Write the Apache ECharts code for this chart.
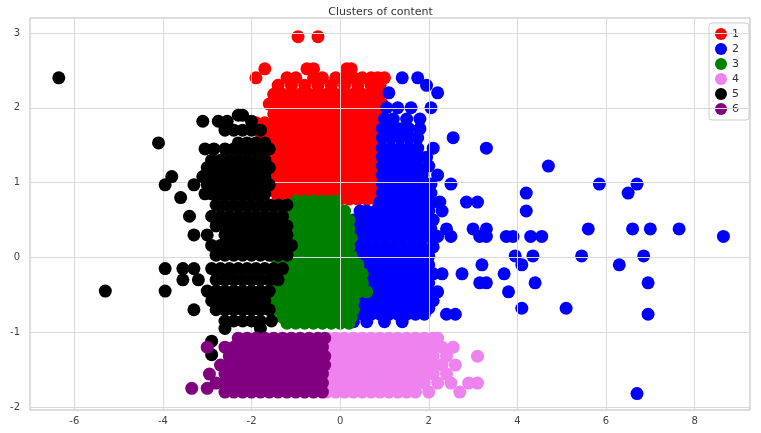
<!DOCTYPE html>
<html><head><meta charset="utf-8">
<script src="https://cdn.jsdelivr.net/npm/echarts@6/dist/echarts.min.js"></script>
<style>html,body{margin:0;padding:0;background:#fff}#c{width:761px;height:433px}</style>
</head><body><div id="c"></div>
<script>
// Rows: [y, x1, x2, ...]
const clusterNames = ['1','2','3','4','5','6'];
const clusterColors = ['#ff0000','#0000ff','#008000','#ee82ee','#000000','#800080'];
const xTicks = [-6,-4,-2,0,2,4,6,8];
const yTicks = [-2,-1,0,1,2,3];

const redRows = [
 [2.95,-0.95,-0.5],
 [2.52,-1.7,-0.75,-0.6,0.15,0.25],
 [2.4,-1.9,-1.2,-1.0,-0.6,-0.4,-0.1,0.1,0.3,0.5,0.7,0.85,1.0],
 [2.3,-1.4,-1.1,-0.8,-0.5,-0.2,0.1,0.4,0.7,0.9],
 [2.18,-1.5,-1.3,-1.1,-0.9,-0.7,-0.5,-0.3,-0.1,0.1,0.3,0.5,0.7,0.9],
 [2.05,-1.6,-1.4,-1.2,-1.0,-0.8,-0.6,-0.4,-0.2,0.0,0.2,0.4,0.6,0.8,0.95],
 [1.92,-1.5,-1.3,-1.1,-0.9,-0.7,-0.5,-0.3,-0.1,0.1,0.3,0.5,0.7,0.9],
 [1.8,-1.9,-1.7,-1.5,-1.3,-1.1,-0.9,-0.7,-0.5,-0.3,-0.1,0.1,0.3,0.5,0.7,0.9],
 [1.67,-1.8,-1.6,-1.4,-1.2,-1.0,-0.8,-0.6,-0.4,-0.2,0.0,0.2,0.4,0.6,0.8,0.95],
 [1.54,-1.5,-1.3,-1.1,-0.9,-0.7,-0.5,-0.3,-0.1,0.1,0.3,0.5,0.7,0.9],
 [1.41,-1.6,-1.4,-1.2,-1.0,-0.8,-0.6,-0.4,-0.2,0.0,0.2,0.4,0.6,0.8,0.95],
 [1.28,-1.5,-1.3,-1.1,-0.9,-0.7,-0.5,-0.3,-0.1,0.1,0.3,0.5,0.7,0.9],
 [1.15,-1.6,-1.4,-1.2,-1.0,-0.8,-0.6,-0.4,-0.2,0.0,0.2,0.4,0.6,0.8,0.95],
 [1.02,-1.5,-1.3,-1.1,-0.9,-0.7,-0.5,-0.3,-0.1,0.1,0.3,0.5,0.7,0.9],
 [0.89,-1.5,-1.3,-1.1,-0.9,-0.7,-0.5,-0.3,-0.1,0.1,0.3,0.5,0.7,0.9],
 [0.78,-1.4,-1.2,-1.0,-0.8,-0.6,-0.4,-0.2,0.0,0.2,0.4,0.6,0.8,0.9]
];
const blueRows = [
 [2.4,1.4,1.75],[2.3,1.95],[2.2,1.1,2.2],[2.0,1.05,1.3,1.6,2.05],
 [1.85,1.0,1.2,1.5,1.8],[1.72,0.95,1.15,1.35,1.55,1.8],
 [1.6,0.95,1.15,1.35,1.55,1.75,2.55],[1.46,0.95,1.15,1.35,1.55,1.75,2.1,3.3],
 [1.34,0.95,1.15,1.35,1.55,1.75,1.95],[1.22,0.95,1.15,1.35,1.55,1.75,2.0,4.7],
 [1.1,0.95,1.15,1.35,1.55,1.75,1.85,2.2],[0.98,0.95,1.15,1.35,1.55,1.75,1.95,2.05,2.5,5.85,6.7],
 [0.86,0.95,1.15,1.35,1.55,1.75,1.95,2.05,4.2,6.5],[0.74,0.9,1.1,1.3,1.5,1.7,1.9,2.1,2.25,2.85,3.1],
 [0.62,0.45,0.6,0.8,1.0,1.2,1.4,1.6,1.8,2.0,2.3,4.2],
 [0.5,0.3,0.5,0.7,0.9,1.1,1.3,1.5,1.7,1.9,2.1],
 [0.38,0.25,0.45,0.65,0.85,1.05,1.25,1.45,1.65,1.85,2.05,2.4,3.0,3.3,5.6,6.6,7.0,7.65],
 [0.28,0.2,0.4,0.6,0.8,1.0,1.2,1.4,1.6,1.8,2.0,2.2,2.5,3.15,3.3,3.75,3.9,4.3,4.55,8.65],
 [0.14,0.25,0.45,0.65,0.85,1.05,1.25,1.45,1.65,1.85,2.1],
 [0.02,0.2,0.4,0.6,0.8,1.0,1.2,1.4,1.6,1.8,2.0,3.95,4.35,5.45,6.85],
 [-0.1,0.3,0.5,0.7,0.9,1.1,1.3,1.5,1.7,1.9,2.0,3.2,4.1,6.3],
 [-0.22,0.5,0.7,0.9,1.1,1.3,1.5,1.7,1.9,2.1,2.3,2.75,3.7],
 [-0.34,0.6,0.8,1.0,1.2,1.4,1.6,1.8,2.0,3.15,3.3,4.4,6.95],
 [-0.46,0.6,0.8,1.0,1.2,1.4,1.6,1.8,2.0,2.2,3.8],
 [-0.58,0.5,0.7,0.9,1.1,1.3,1.5,1.7,1.9,2.1],
 [-0.68,0.4,0.6,0.8,1.0,1.2,1.4,1.6,1.8,2.0,4.1,5.1],
 [-0.76,0.3,0.5,0.7,0.9,1.1,1.3,1.5,1.7,1.9,2.4,2.6,6.95],
 [-0.86,0.3,0.6,1.0,1.4],[-1.82,6.7]
];
const greenRows = [
 [0.75,-1.0,-0.8,-0.6,-0.4,-0.2,-0.1],
 [0.62,-1.1,-0.9,-0.7,-0.5,-0.3,-0.1,0.1],
 [0.5,-1.3,-1.1,-0.9,-0.7,-0.5,-0.3,-0.1,0.1,0.2],
 [0.38,-1.4,-1.2,-1.0,-0.8,-0.6,-0.4,-0.2,0.0,0.2],
 [0.26,-1.5,-1.3,-1.1,-0.9,-0.7,-0.5,-0.3,-0.1,0.1,0.25],
 [0.14,-1.4,-1.2,-1.0,-0.8,-0.6,-0.4,-0.2,0.0,0.2],
 [0.02,-1.5,-1.3,-1.1,-0.9,-0.7,-0.5,-0.3,-0.1,0.1,0.25],
 [-0.1,-1.4,-1.2,-1.0,-0.8,-0.6,-0.4,-0.2,0.0,0.2,0.4],
 [-0.22,-1.5,-1.3,-1.1,-0.9,-0.7,-0.5,-0.3,-0.1,0.1,0.3,0.5],
 [-0.34,-1.5,-1.3,-1.1,-0.9,-0.7,-0.5,-0.3,-0.1,0.1,0.3,0.5],
 [-0.46,-1.6,-1.4,-1.2,-1.0,-0.8,-0.6,-0.4,-0.2,0.0,0.2,0.4,0.6],
 [-0.58,-1.7,-1.5,-1.3,-1.1,-0.9,-0.7,-0.5,-0.3,-0.1,0.1,0.3],
 [-0.7,-1.5,-1.3,-1.1,-0.9,-0.7,-0.5,-0.3,-0.1,0.1,0.3],
 [-0.8,-1.3,-1.1,-0.9,-0.7,-0.5,-0.3,-0.1,0.1,0.25],
 [-0.88,-1.2,-1.0,-0.8,-0.6,-0.4,-0.2,0.0,0.2]
];
const pinkRows = [
 [-1.08,-0.3,-0.1,0.1,0.3,0.5,0.7,0.9,1.1,1.3,1.5,1.7,1.9,2.1,2.2],
 [-1.2,-0.3,-0.1,0.1,0.3,0.5,0.7,0.9,1.1,1.3,1.5,1.7,1.9,2.1,2.3,2.55],
 [-1.32,-0.3,-0.1,0.1,0.3,0.5,0.7,0.9,1.1,1.3,1.5,1.7,1.9,2.1,2.4,3.1],
 [-1.44,-0.3,-0.1,0.1,0.3,0.5,0.7,0.9,1.1,1.3,1.5,1.7,1.9,2.1,2.3,2.6],
 [-1.56,-0.3,-0.1,0.1,0.3,0.5,0.7,0.9,1.1,1.3,1.5,1.7,1.9,2.1,2.4],
 [-1.68,-0.3,-0.1,0.1,0.3,0.5,0.7,0.9,1.1,1.3,1.5,1.7,1.9,2.2,2.5,2.9,3.1],
 [-1.8,-0.3,-0.1,0.1,0.3,0.5,0.7,0.9,1.1,1.3,1.5,1.7,2.0,2.7]
];
const blackRows = [
 [2.4,-6.35],[1.9,-2.3,-2.2],[1.82,-3.1,-2.75,-2.55,-2.0],[1.7,-2.6,-2.4,-2.2,-2.0,-1.8],
 [1.53,-4.1,-2.3,-2.1,-1.9,-1.7],[1.45,-3.05,-2.85,-2.6,-2.4,-2.2,-2.0,-1.8,-1.6],
 [1.3,-2.9,-2.7,-2.5,-2.3,-2.1,-1.9,-1.7],[1.2,-3.0,-2.8,-2.6,-2.4,-2.2,-2.0,-1.8,-1.6],
 [1.08,-3.8,-3.1,-2.9,-2.7,-2.5,-2.3,-2.1,-1.9,-1.7],[0.97,-3.95,-3.3,-3.0,-2.8,-2.6,-2.4,-2.2,-2.0,-1.8,-1.6],
 [0.85,-3.05,-2.9,-2.7,-2.5,-2.3,-2.1,-1.9,-1.7],[0.8,-3.6],
 [0.7,-2.8,-2.6,-2.4,-2.2,-2.0,-1.8,-1.6,-1.4,-1.2],
 [0.55,-3.4,-2.9,-2.7,-2.5,-2.3,-2.1,-1.9,-1.7,-1.5,-1.3],
 [0.42,-2.8,-2.6,-2.4,-2.2,-2.0,-1.8,-1.6,-1.4,-1.2],
 [0.3,-3.3,-3.0,-2.6,-2.4,-2.2,-2.0,-1.8,-1.6,-1.4,-1.2],
 [0.16,-2.9,-2.7,-2.5,-2.3,-2.1,-1.9,-1.7,-1.5,-1.3,-1.1],
 [0.03,-2.8,-2.6,-2.4,-2.2,-2.0,-1.8,-1.6,-1.4,-1.2],
 [-0.15,-3.95,-3.55,-3.3,-2.9,-2.7,-2.5,-2.3,-2.1,-1.9,-1.7,-1.5,-1.3],
 [-0.3,-3.55,-3.2,-2.8,-2.6,-2.4,-2.2,-2.0,-1.8,-1.6,-1.4],
 [-0.45,-5.3,-3.95,-3.0,-2.8,-2.6,-2.4,-2.2,-2.0,-1.8,-1.6],
 [-0.58,-2.9,-2.7,-2.5,-2.3,-2.1,-1.9,-1.7],
 [-0.7,-3.3,-2.8,-2.6,-2.4,-2.2,-2.0,-1.8,-1.6],
 [-0.85,-2.6,-2.4,-2.2,-2.0,-1.8,-1.55],
 [-0.95,-2.6,-1.8],[-1.12,-2.9],[-1.3,-2.9]
];
const purpleRows = [
 [-1.08,-2.3,-2.1,-1.9,-1.7,-1.5,-1.3,-1.1,-0.9,-0.7,-0.5,-0.35],
 [-1.2,-3.0,-2.6,-2.4,-2.2,-2.0,-1.8,-1.6,-1.4,-1.2,-1.0,-0.8,-0.6,-0.4],
 [-1.32,-2.5,-2.3,-2.1,-1.9,-1.7,-1.5,-1.3,-1.1,-0.9,-0.7,-0.5,-0.35],
 [-1.44,-2.7,-2.5,-2.3,-2.1,-1.9,-1.7,-1.5,-1.3,-1.1,-0.9,-0.7,-0.5,-0.35],
 [-1.56,-2.95,-2.6,-2.4,-2.2,-2.0,-1.8,-1.6,-1.4,-1.2,-1.0,-0.8,-0.6,-0.4],
 [-1.68,-2.8,-2.6,-2.4,-2.2,-2.0,-1.8,-1.6,-1.4,-1.2,-1.0,-0.8,-0.6,-0.4],
 [-1.75,-3.35,-3.0],
 [-1.8,-2.6,-2.4,-2.2,-2.0,-1.8,-1.6,-1.4,-1.2,-1.0,-0.8,-0.6,-0.4]
];
const allRows = [redRows, blueRows, greenRows, pinkRows, blackRows, purpleRows];

function expand(rows){ const out=[]; rows.forEach(r=>{ for(let i=1;i<r.length;i++) out.push([r[i], r[0]]); }); return out; }

const gridLines = {
  silent:true, symbol:'none', label:{show:false},
  lineStyle:{color:'#d9d9d9', type:'solid', width:1},
  data: xTicks.map(v=>({xAxis:v})).concat(yTicks.map(v=>({yAxis:v})))
};

const series = allRows.map((rows,i)=>({
  name: clusterNames[i], type:'scatter', symbolSize:13, z:2+i,
  itemStyle:{color:clusterColors[i], opacity:1},
  data: expand(rows),
  markLine: i===0 ? gridLines : undefined
}));

const chart = echarts.init(document.getElementById('c'));
chart.setOption({
  animation:false, backgroundColor:'#fff',
  title:{text:'Clusters of content', left:'center', top:2, textStyle:{fontSize:11, fontWeight:'normal', color:'#333', fontFamily:'DejaVu Sans'}},
  legend:{orient:'vertical', right:12, top:23, itemWidth:12, itemHeight:12, itemGap:3, icon:'circle',
    backgroundColor:'#fff', borderColor:'#ccc', borderWidth:1, borderRadius:3, padding:[5,10,5,6],
    textStyle:{fontSize:11, color:'#333', fontFamily:'DejaVu Sans'}, data:clusterNames},
  grid:{left:30, right:11, top:18, bottom:23, show:true, borderColor:'#bbb', borderWidth:1},
  xAxis:{type:'value', min:-7, max:9.25,
    axisLine:{show:false}, axisTick:{show:false}, splitLine:{show:false},
    axisLabel:{customValues:xTicks, color:'#444', fontSize:10, fontFamily:'DejaVu Sans', margin:6}},
  yAxis:{type:'value', min:-2.04, max:3.2,
    axisLine:{show:false}, axisTick:{show:false}, splitLine:{show:false},
    axisLabel:{customValues:yTicks, color:'#444', fontSize:10, fontFamily:'DejaVu Sans', margin:10}},
  series
});
</script></body></html>
